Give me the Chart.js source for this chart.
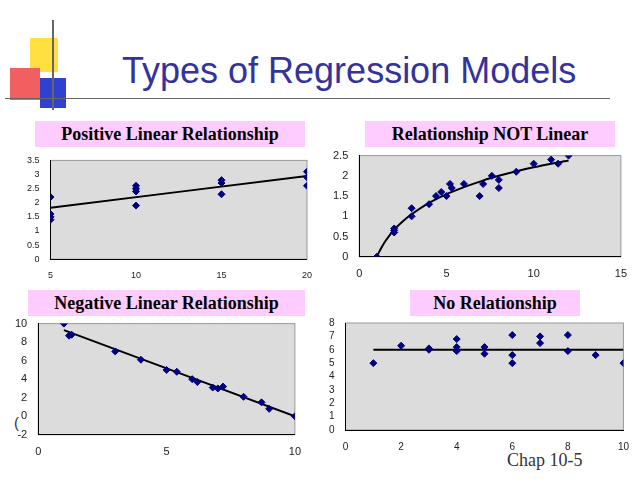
<!DOCTYPE html>
<html><head><meta charset="utf-8">
<script src="https://cdn.jsdelivr.net/npm/chart.js@4"></script>
<style>
body{margin:0;width:638px;height:479px;background:#fff;position:relative;overflow:hidden;font-family:"Liberation Sans",Arial,sans-serif}
.abs{position:absolute}
.lbl{position:absolute;background:#ffccff;font-family:"Liberation Serif","Times New Roman",serif;font-weight:bold;font-size:18px;color:#000;text-align:center;line-height:26px;height:26px}
canvas{display:block}
</style></head><body>
<div class="abs" style="left:30px;top:38px;width:28px;height:34px;background:#ffe040"></div>
<div class="abs" style="left:10px;top:68px;width:30px;height:32px;background:#f06060"></div>
<div class="abs" style="left:40px;top:78px;width:26px;height:30px;background:#3040d0"></div>
<div class="abs" style="left:52px;top:20px;width:2px;height:90px;background:#666"></div>
<div class="abs" style="left:5px;top:98px;width:605px;height:1px;background:#666"></div>
<div class="abs" style="left:122px;top:50px;font-size:36px;color:#333399;font-family:'Liberation Sans',Arial,sans-serif">Types of Regression Models</div>
<div class="lbl" style="left:35px;top:121px;width:270px">Positive Linear Relationship</div>
<div class="lbl" style="left:365px;top:121px;width:250px">Relationship NOT Linear</div>
<div class="lbl" style="left:28px;top:290px;width:277px">Negative Linear Relationship</div>
<div class="lbl" style="left:410px;top:290px;width:170px">No Relationship</div>
<div class="abs" style="left:14px;top:414px;font-size:15px;color:#333">(</div>
<div class="abs" style="left:507px;top:450px;font-size:18px;font-family:'Liberation Serif',serif;color:#333">Chap 10-5</div>
<div class="abs" style="left:24px;top:152px;width:291px;height:132px"><canvas id="c1"></canvas></div>
<div class="abs" style="left:330px;top:146px;width:300px;height:138px"><canvas id="c2"></canvas></div>
<div class="abs" style="left:12px;top:314px;width:292px;height:148px"><canvas id="c3"></canvas></div>
<div class="abs" style="left:326px;top:314px;width:306px;height:142px"><canvas id="c4"></canvas></div>
<script>
const posX=[5,5,5,5,10,10,10,10,15,15,15,20,20,20];
const posY=[2.2,1.6,1.5,1.4,2.6,2.5,2.4,1.9,2.8,2.7,2.3,3.1,2.9,2.6];
const posTrendX=[5,20], posTrendY=[1.82,2.95];
const nlX=[1,2,2,2,3,3,4,4.4,4.7,5,5.2,5.3,6,6.9,7.1,7.6,8,8,9,10,11,11.4,12];
const nlY=[0,0.7,0.6,0.65,1.2,1.0,1.3,1.5,1.6,1.5,1.8,1.7,1.8,1.5,1.8,2.0,1.9,1.7,2.1,2.3,2.4,2.3,2.5];
const nlCurveX=[1,1.25,1.5,2,2.5,3,4,5,6,7,8,10,12];
const nlCurveY=[0,0.21,0.39,0.67,0.88,1.05,1.33,1.55,1.72,1.87,2.0,2.21,2.38];
const negX=[1,1.2,1.3,3,4,5,5.4,6,6.2,6.8,7,7.2,8,8.7,9,10];
const negY=[10,8.7,8.8,7,6.1,5,4.8,4,3.7,3.1,3,3.2,2.1,1.5,0.8,0];
const negTrendX=[1,10], negTrendY=[9.3,0];
const noX=[1,2,3,3,4,4,4,5,5,6,6,6,7,7,8,8,9,10];
const noY=[5,6.3,6,6.1,6.8,6.2,5.9,6.2,5.7,7.1,5.6,5,7,6.5,7.1,5.9,5.6,5];
const noTrendX=[1,10], noTrendY=[6,6];

const zip=(a,b)=>a.map((v,i)=>({x:v,y:b[i]}));
const bg={id:'bg',beforeDraw(c){const a=c.chartArea,g=c.ctx;g.save();g.fillStyle='#dcdcdc';g.fillRect(a.left,a.top,a.right-a.left,a.bottom-a.top);g.strokeStyle='#999';g.lineWidth=1;g.strokeRect(a.left,a.top,a.right-a.left,a.bottom-a.top);g.restore();}};
function mk(id,px,py,tx,ty,xr,yr,fs){
 const tick={color:'#222',font:{family:'Liberation Sans',size:fs},autoSkip:false,callback:v=>String(Math.round(v*10)/10)};
 new Chart(document.getElementById(id),{type:'scatter',plugins:[bg],
 data:{datasets:[
  {data:zip(px,py),pointStyle:'rectRot',pointRadius:3.5,backgroundColor:'#000080',borderColor:'#000080',order:1},
  {type:'line',data:zip(tx,ty),borderColor:'#000',borderWidth:2,pointRadius:0,tension:0.3,order:2}]},
 options:{animation:false,responsive:true,maintainAspectRatio:false,
  plugins:{legend:{display:false},tooltip:{enabled:false}},
  layout:{padding:{right:8,top:2}},
  scales:{x:{type:'linear',min:xr[0],max:xr[1],ticks:Object.assign({stepSize:xr[2]},tick),grid:{display:false},border:{color:'#000'}},
   y:{min:yr[0],max:yr[1],ticks:Object.assign({stepSize:yr[2]},tick),grid:{display:false},border:{color:'#000'}}}}});
}
mk('c1',posX,posY,posTrendX,posTrendY,[5,20,5],[0,3.5,0.5],9);
mk('c2',nlX,nlY,nlCurveX,nlCurveY,[0,15,5],[0,2.5,0.5],11);
mk('c3',negX,negY,negTrendX,negTrendY,[0,10,5],[-2,10,2],11);
mk('c4',noX,noY,noTrendX,noTrendY,[0,10,2],[0,8,1],10);
</script>
</body></html>
